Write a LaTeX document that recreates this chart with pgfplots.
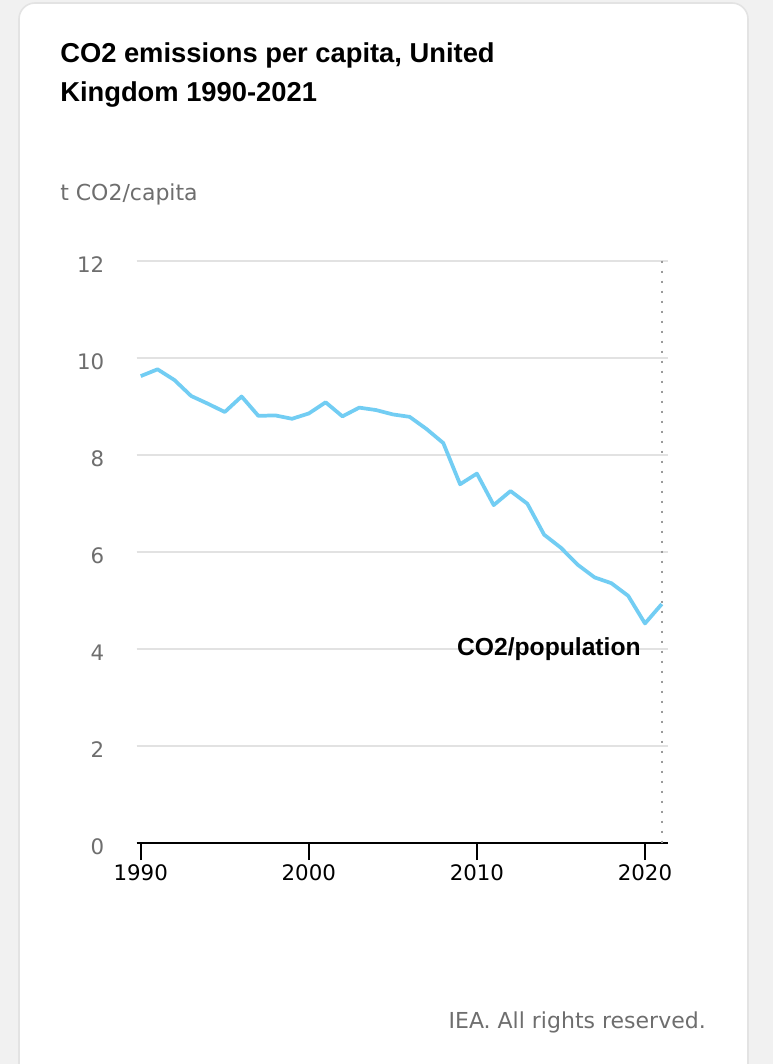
\documentclass[border=0pt]{standalone}
\usepackage{fontspec}
\setmainfont{DejaVu Sans}
\newfontfamily\headfont{Liberation Sans}
\usepackage{pgfplots}
\pgfplotsset{compat=1.18}

\definecolor{pagebg}{HTML}{F1F1F1}
\definecolor{cardedge}{HTML}{E3E3E3}
\definecolor{gridgray}{HTML}{E2E2E2}
\definecolor{labelgray}{HTML}{6E6E6E}
\definecolor{dotgray}{HTML}{9A9A9A}
\definecolor{co2blue}{HTML}{72CDF3}

\begin{document}
\begin{tikzpicture}
% page and card, in pixel units measured from the top left corner
\begin{scope}[x=0.75pt,y=-0.75pt]
  \useasboundingbox (0,0) rectangle (773,1064);
  \clip (0,0) rectangle (773,1064);
  \fill[pagebg] (0,0) rectangle (773,1064);
  \draw[cardedge, line width=1.2pt, fill=white, rounded corners=12pt]
    (19,3) rectangle (748,1090);
  \node[anchor=base west, inner sep=0pt, font=\headfont\bfseries\fontsize{20.5}{24}\selectfont]
    at (60,62.3) {CO2 emissions per capita, United};
  \node[anchor=base west, inner sep=0pt, font=\headfont\bfseries\fontsize{20.5}{24}\selectfont]
    at (60,101) {Kingdom 1990-2021};
  \node[anchor=base west, inner sep=0pt, text=labelgray, font=\fontsize{16.5}{20}\selectfont]
    at (60,200) {t CO2/capita};
  \node[anchor=base east, inner sep=0pt, text=labelgray, font=\fontsize{16.5}{20}\selectfont]
    at (706,1028.3) {IEA. All rights reserved.};
\end{scope}

\begin{axis}[
  at={(102.4pt,-632.0pt)}, anchor=south west,
  scale only axis, width=398.6pt, height=436.5pt,
  xmin=1989.75, xmax=2021.37, ymin=0, ymax=12,
  axis x line*=bottom, axis y line*=left,
  x axis line style={black, line width=1.5pt},
  y axis line style={draw=none},
  xtick={1990,2000,2010,2020},
  ytick={0,2,4,6,8,10,12},
  tick align=outside,
  major tick length=13pt,
  xtick style={black, line width=1.5pt},
  ytick style={draw=none},
  x tick label style={/pgf/number format/1000 sep={}},
  /pgf/number format/assume math mode=true,
  tick label style={font=\fontsize{16}{19}\selectfont, text=labelgray},
  xticklabel style={text=black, anchor=north, inner sep=0pt, yshift=-3pt},
  yticklabel style={anchor=east, inner sep=0pt, xshift=-11pt, yshift=-3pt},
  ymajorgrids,
  grid style={gridgray, line width=1.4pt},
  clip=false,
]
% current-year marker
\addplot[dotgray, line width=1.5pt, dash pattern=on 1.5pt off 6pt]
  coordinates {(2021,12) (2021,0)};

% CO2 emissions per capita, t CO2 per person
\addplot[co2blue, line width=2.8pt, line join=round, mark=none] coordinates {
  (1990,9.62) (1991,9.76) (1992,9.54) (1993,9.21) (1994,9.05)
  (1995,8.88) (1996,9.20) (1997,8.80) (1998,8.81) (1999,8.74)
  (2000,8.85) (2001,9.08) (2002,8.79) (2003,8.97) (2004,8.92)
  (2005,8.83) (2006,8.78) (2007,8.53) (2008,8.24) (2009,7.39)
  (2010,7.61) (2011,6.96) (2012,7.25) (2013,6.99) (2014,6.35)
  (2015,6.08) (2016,5.73) (2017,5.47) (2018,5.35) (2019,5.09)
  (2020,4.52) (2021,4.92)
};

\node[anchor=base east, inner sep=0pt, font=\headfont\bfseries\fontsize{18.5}{22}\selectfont]
  at (axis cs:2019.76,3.85) {CO2/population};
\end{axis}
\end{tikzpicture}
\end{document}
